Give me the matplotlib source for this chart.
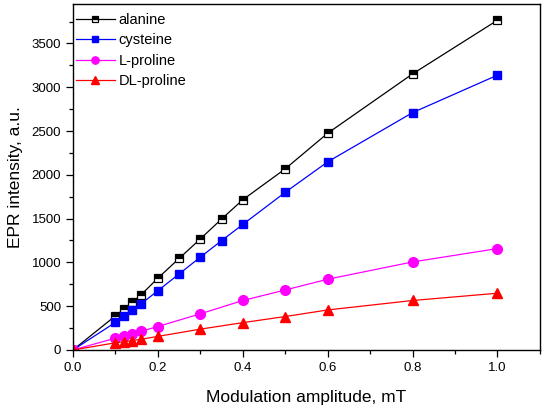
import matplotlib
matplotlib.use("Agg")
import matplotlib.pyplot as plt
from matplotlib.ticker import MultipleLocator

plt.rcParams["font.family"] = ["Liberation Sans", "DejaVu Sans"]

# modulation amplitude, mT
x_amino = [0, 0.1, 0.12, 0.14, 0.16, 0.2, 0.25, 0.3, 0.35, 0.4, 0.5, 0.6, 0.8, 1.0]
x_proline = [0, 0.1, 0.12, 0.14, 0.16, 0.2, 0.3, 0.4, 0.5, 0.6, 0.8, 1.0]

# EPR intensity, a.u.
alanine = [0, 390, 468, 545, 628, 820, 1045, 1268, 1495, 1715, 2068, 2475, 3152, 3765]
cysteine = [0, 315, 390, 452, 525, 677, 868, 1060, 1248, 1433, 1800, 2148, 2710, 3138]
l_proline = [0, 135, 160, 185, 213, 268, 413, 565, 685, 808, 1005, 1158]
dl_proline = [0, 82, 95, 108, 122, 155, 238, 312, 382, 457, 565, 648]

labels = ["alanine", "cysteine", "L-proline", "DL-proline"]

fig = plt.figure(figsize=(5.5, 4.09), dpi=100)
ax = fig.add_axes([0.1327, 0.1443, 0.849, 0.8459])

ax.plot(x_amino, alanine, color="black", lw=0.9, marker="s", ms=6,
        fillstyle="top", markerfacecolor="black", markerfacecoloralt="white",
        markeredgecolor="black", markeredgewidth=0.9, label=labels[0])
ax.plot(x_amino, cysteine, color="#0000ff", lw=0.9, marker="s", ms=6.3,
        markerfacecolor="#0000ff", markeredgecolor="#0000ff", label=labels[1])
ax.plot(x_proline, l_proline, color="#ff00ff", lw=0.9, marker="o", ms=7,
        markerfacecolor="#ff00ff", markeredgecolor="#ff00ff", label=labels[2])
ax.plot(x_proline, dl_proline, color="#ff0000", lw=0.9, marker="^", ms=7,
        markerfacecolor="#ff0000", markeredgecolor="#ff0000", label=labels[3])

ax.set_xlim(0, 1.1)
ax.set_ylim(0, 3950)
ax.xaxis.set_major_locator(MultipleLocator(0.2))
ax.xaxis.set_minor_locator(MultipleLocator(0.1))
ax.yaxis.set_major_locator(MultipleLocator(500))
ax.yaxis.set_minor_locator(MultipleLocator(250))
ax.xaxis.set_major_formatter(plt.FormatStrFormatter("%.1f"))

ax.tick_params(which="both", direction="out", top=False, right=False,
               labelsize=9.5, width=0.9)
ax.tick_params(which="major", length=5)
ax.tick_params(which="minor", length=3)
for spine in ax.spines.values():
    spine.set_linewidth(1.0)

ax.set_xlabel("Modulation amplitude, mT", fontsize=12.5, labelpad=12)
ax.set_ylabel("EPR intensity, a.u.", fontsize=12.5, labelpad=6)

ax.legend(loc="upper left", bbox_to_anchor=(0.006, 0.975), frameon=False,
          fontsize=10.5, markerscale=0.75, handlelength=2.7, handletextpad=0.25,
          labelspacing=0.45, borderaxespad=0, borderpad=0)

fig.savefig("out.png", dpi=100)
